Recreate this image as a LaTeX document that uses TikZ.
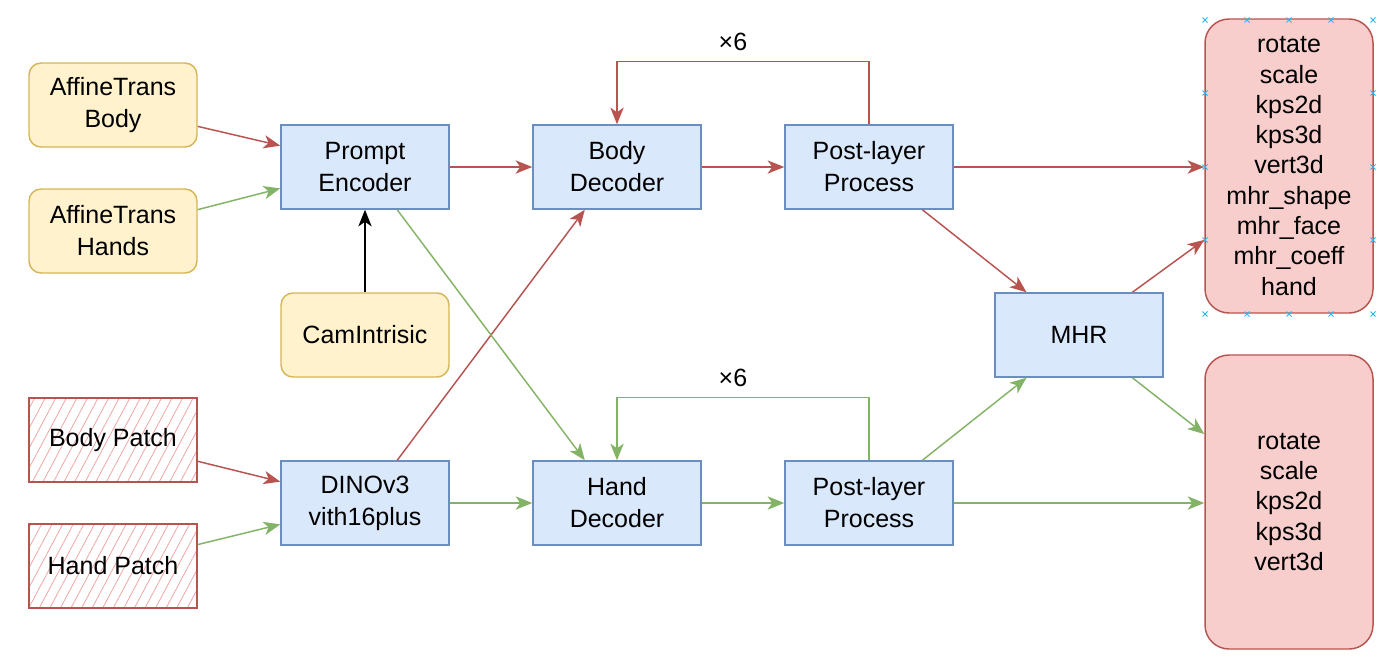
\documentclass[tikz,border=0pt]{standalone}
\usepackage{fontspec}
\setmainfont{Liberation Sans}
\usepackage{tikz}
\usetikzlibrary{arrows.meta, positioning, calc, patterns.meta}
\definecolor{blockfill}{HTML}{DAE8FC}
\definecolor{blockline}{HTML}{6C8EBF}
\definecolor{inputfill}{HTML}{FFF2CC}
\definecolor{inputline}{HTML}{D6B656}
\definecolor{outfill}{HTML}{F8CECC}
\definecolor{outline}{HTML}{B85450}
\definecolor{hatchred}{RGB}{240, 165, 165}
\definecolor{bodyred}{HTML}{B85450}
\definecolor{handgreen}{HTML}{82B366}
\definecolor{handleblue}{HTML}{29B6F2}

\tikzset{
    base/.style={minimum width=126pt, minimum height=63pt, inner sep=2pt, align=center,
                 font=\fontsize{18.75}{24}\selectfont, line width=1.1pt},
    block/.style={base, fill=blockfill, draw=blockline},
    inbox/.style={base, fill=inputfill, draw=inputline, rounded corners=9pt},
    patchbox/.style={base, draw=bodyred, line width=1.5pt,
                     pattern={Lines[angle=62, distance=7pt, line width=0.6pt]}, pattern color=hatchred},
    outbox/.style={base, fill=outfill, draw=outline, rounded corners=18pt, minimum height=220.5pt,
                   font=\fontsize{18.75}{22.7}\selectfont},
    bodyarrow/.style={draw=bodyred, line width=1.1pt, -{Stealth[length=12.5pt, width=10pt, inset=3.5pt]}},
    handarrow/.style={draw=handgreen, line width=1.1pt, -{Stealth[length=12.5pt, width=10pt, inset=3.5pt]}},
    camarrow/.style={draw=black, line width=1.1pt, -{Stealth[length=12.5pt, width=10pt, inset=3.5pt]}},
    handle/.style={draw=handleblue, line width=0.7pt}
}

\begin{document}
\begin{tikzpicture}[x=0.75pt, y=-0.75pt]
    \useasboundingbox (0,0) rectangle (1384,662);

    % inputs
    \node[inbox] (atb) at (113,105) {AffineTrans\\Body};
    \node[inbox] (ath) at (113,231) {AffineTrans\\Hands};
    \node[inbox] (cam) at (365,335) {CamIntrisic};
    \node[patchbox] (bp) at (113,440) {Body Patch};
    \node[patchbox] (hp) at (113,566) {Hand Patch};

    % blocks
    \node[block] (pe) at (365,167) {Prompt\\Encoder};
    \node[block] (dino) at (365,503) {DINOv3\\vith16plus};
    \node[block] (bd) at (617,167) {Body\\Decoder};
    \node[block] (hd) at (617,503) {Hand\\Decoder};
    \node[block] (plt) at (869,167) {Post-layer\\Process};
    \node[block] (plb) at (869,503) {Post-layer\\Process};
    \node[block] (mhr) at (1079,335) {MHR};

    % outputs
    \node[outbox] (outt) at (1289,166) {rotate\\scale\\kps2d\\kps3d\\vert3d\\mhr\_shape\\mhr\_face\\mhr\_coeff\\hand};
    \node[outbox] (outb) at (1289,502) {rotate\\scale\\kps2d\\kps3d\\vert3d};

    % selection handles
    \foreach \hx in {1205,1247,1289,1331,1373}
        \foreach \hy in {20,314}
            \draw[handle] (\hx,\hy) +(-2.5,-2.5) -- +(2.5,2.5) +(-2.5,2.5) -- +(2.5,-2.5);
    \foreach \hx in {1205,1373}
        \foreach \hy in {93,167,240}
            \draw[handle] (\hx,\hy) +(-2.5,-2.5) -- +(2.5,2.5) +(-2.5,2.5) -- +(2.5,-2.5);

    % body path
    \draw[bodyarrow] ($(atb.east)!.5!(atb.south east)$) -- ($(pe.west)!.5!(pe.north west)$);
    \draw[bodyarrow] ($(bp.east)!.5!(bp.south east)$) -- ($(dino.west)!.5!(dino.north west)$);
    \draw[bodyarrow] (pe.east) -- (bd.west);
    \draw[bodyarrow] ($(dino.north)!.38!(dino.north east)$) -- ($(bd.south west)!.62!(bd.south)$);
    \draw[bodyarrow] (bd.east) -- (plt.west);
    \draw[bodyarrow] (plt.north) -- ++(0,-63) -| node[pos=.27, above=4pt, text=black, font=\fontsize{18.75}{24}\selectfont] {×6} (bd.north);
    \draw[bodyarrow] (plt.east) -- (plt.east -| outt.west);
    \draw[bodyarrow] ($(plt.south)!.63!(plt.south east)$) -- ($(mhr.north west)!.38!(mhr.north)$);
    \draw[bodyarrow] ($(mhr.north)!.63!(mhr.north east)$) -- ($(outt.west)!.5!(outt.south west)$);

    % hand path
    \draw[handarrow] ($(ath.east)!.5!(ath.north east)$) -- ($(pe.west)!.5!(pe.south west)$);
    \draw[handarrow] ($(hp.east)!.5!(hp.north east)$) -- ($(dino.west)!.5!(dino.south west)$);
    \draw[handarrow] ($(pe.south)!.38!(pe.south east)$) -- ($(hd.north west)!.62!(hd.north)$);
    \draw[handarrow] (dino.east) -- (hd.west);
    \draw[handarrow] (hd.east) -- (plb.west);
    \draw[handarrow] (plb.north) -- ++(0,-63) -| node[pos=.27, above=4pt, text=black, font=\fontsize{18.75}{24}\selectfont] {×6} (hd.north);
    \draw[handarrow] (plb.east) -- (plb.east -| outb.west);
    \draw[handarrow] ($(plb.north)!.63!(plb.north east)$) -- ($(mhr.south west)!.38!(mhr.south)$);
    \draw[handarrow] ($(mhr.south)!.63!(mhr.south east)$) -- ($(outb.west)!.46!(outb.north west)$);

    % camera
    \draw[camarrow] (cam.north) -- (pe.south);
\end{tikzpicture}
\end{document}
